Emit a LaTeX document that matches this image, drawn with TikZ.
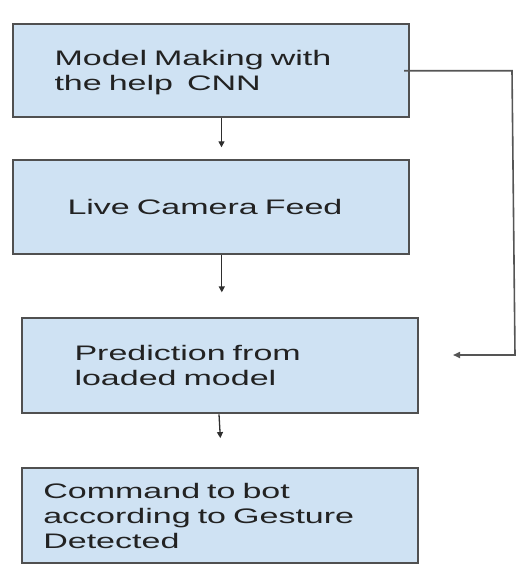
\documentclass[tikz,border=0pt]{standalone}
\usepackage{fontspec}
\setmainfont[FakeStretch=1.62]{Liberation Sans}
\usetikzlibrary{arrows.meta,calc}
\definecolor{boxfill}{HTML}{CFE2F3}
\definecolor{boxline}{HTML}{505050}
\definecolor{txt}{HTML}{222222}
\definecolor{connc}{HTML}{2E2E2E}
\definecolor{fbc}{HTML}{555555}
\begin{document}
\begin{tikzpicture}[x=1pt,y=-1pt,
  flowbox/.style={draw=boxline, line width=2pt, fill=boxfill, minimum width=396pt,
    inner sep=0pt, font=\fontsize{21pt}{25pt}\selectfont, text=txt, align=left},
  conn/.style={draw=connc, line width=1.3pt, -{Triangle[length=6pt,width=6pt]}},
  fbline/.style={draw=fbc, line width=1.6pt, -{Triangle[length=7pt,width=6pt]}},
]
\useasboundingbox (0,0) rectangle (532,581);
\node[flowbox, minimum height=93.3pt, text width=313pt] (b1) at (211,70.7)
  {Model Making with\\the hel\smash{p}\ \ CNN};
\node[flowbox, minimum height=94pt, text width=287pt] (b2) at (211,207)
  {Live Camera Feed};
\node[flowbox, minimum height=95.3pt, text width=291pt] (b3) at (220,365.7)
  {Prediction from\\loaded model};
\node[flowbox, minimum height=95.3pt, text width=353.4pt] (b4) at (220,515.7)
  {Command to bot\\according to Gesture\\Detected};
\draw[conn, shorten >=11.7pt] ([xshift=10.5pt]b1.south) -- ([xshift=10.5pt]b1.south |- b2.north);
\draw[conn, shorten >=24.7pt] ([xshift=10.8pt]b2.south) -- ([xshift=10.8pt]b2.south |- b3.north);
\draw[conn, shorten >=29pt] ([xshift=-1pt]b3.south) -- ([xshift=2pt]b3.south |- b4.north);
\coordinate (fb1) at (512,70.7);
\coordinate (fb2) at (515,355);
\coordinate (fbend) at (453,355);
\draw[fbline] ([xshift=-6pt]b1.east) -- (fb1) -- (fb2) -- (fbend);
\end{tikzpicture}
\end{document}
